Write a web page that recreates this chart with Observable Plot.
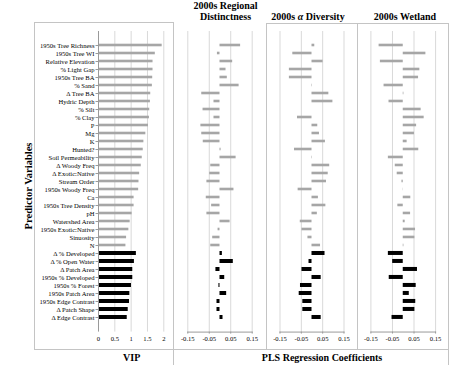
<!DOCTYPE html>
<html>
<head>
<meta charset="utf-8">
<script src="https://cdn.jsdelivr.net/npm/d3@7"></script>
<script src="https://cdn.jsdelivr.net/npm/@observablehq/plot@0.6"></script>
<style>
  html, body { margin: 0; padding: 0; background: #fff; }
  #chart { position: relative; width: 474px; height: 365px; overflow: hidden; font-family: "Liberation Serif", "Times New Roman", serif; }
  .ln { position: absolute; background: #c4c4c4; }
  .t { position: absolute; font-weight: bold; color: #000; white-space: nowrap; transform: translate(-50%, -50%); line-height: 1; }
</style>
</head>
<body>
<div id="chart"></div>
<script>
// ---- data ----
const siteVars = ["1950s Tree Richness", "1950s Tree WI", "Relative Elevation", "% Light Gap", "1950s Tree BA", "% Sand",
  "Δ Tree BA", "Hydric Depth", "% Silt", "% Clay", "P", "Mg", "K", "Hunted?", "Soil Permeability", "Δ Woody Freq",
  "Δ Exotic:Native", "Stream Order", "1950s Woody Freq", "Ca", "1950s Tree Density", "pH", "Watershed Area",
  "1950s Exotic:Native", "Sinuosity", "N"];
const landscapeVars = ["Δ % Developed", "Δ % Open Water", "Δ Patch Area", "1950s % Developed", "1950s % Forest",
  "1950s Patch Area", "1950s Edge Contrast", "Δ Patch Shape", "Δ Edge Contrast"];
const vip = [1.95, 1.74, 1.67, 1.67, 1.66, 1.65, 1.60, 1.59, 1.57, 1.56, 1.53, 1.45, 1.39, 1.37, 1.34, 1.31, 1.26, 1.24, 1.23,
  1.09, 1.09, 1.03, 0.97, 0.93, 0.86, 0.84,
  1.16, 1.10, 1.05, 1.05, 1.01, 0.96, 0.95, 0.91, 0.88];
const regional = [0.096, -0.012, 0.059, 0.028, 0.034, 0.089, -0.085, -0.028, -0.079, -0.028, -0.089, -0.085, -0.078, 0.005,
  0.075, -0.043, -0.048, -0.061, 0.065, -0.064, -0.039, -0.061, 0.047, -0.009, -0.034, -0.043,
  0.011, 0.062, -0.019, 0.022, -0.005, 0.031, -0.014, -0.014, 0.014];
const alphaDiversity = [0.013, -0.090, 0.052, -0.106, -0.106, 0.002, 0.079, 0.098, 0, -0.068, 0.027, 0.035, 0.063, -0.082,
  -0.002, 0.083, 0.076, 0.068, -0.065, 0.030, 0.065, 0.025, -0.055, -0.047, -0.019, 0.040,
  0.061, -0.014, -0.047, 0.043, -0.054, -0.060, -0.043, -0.043, 0.043];
const wetland = [-0.112, 0.105, -0.106, 0.077, 0.071, -0.089, 0.003, -0.066, 0.083, 0.097, 0.062, 0.052, 0.018, 0.072,
  -0.069, -0.037, -0.028, -0.006, -0.001, 0.035, -0.025, 0.034, 0.009, 0.057, 0.054, 0.003,
  -0.069, -0.049, 0.066, -0.065, 0.060, 0.028, 0.058, 0.054, -0.052];
const vipTicks = [0, 0.5, 1, 1.5, 2];
const coefTicks = [-0.15, -0.05, 0.05, 0.15];

// ---- build ----
const variables = siteVars.concat(landscapeVars);
const rows = variables.map((v, i) => ({
  v, group: i < siteVars.length ? "site" : "landscape",
  vip: vip[i], regional: regional[i], alpha: alphaDiversity[i], wetland: wetland[i]
}));
const siteRows = rows.filter(d => d.group === "site");
const landRows = rows.filter(d => d.group === "landscape");

const H = 365, MT = 31, MB = 33.4;
const font = {fontFamily: "Liberation Serif, Times New Roman, serif", fontSize: "6.6px", color: "#000", background: "transparent", overflow: "visible"};
const GRAY = "#a6a6a6", GRID = "#d9d9d9";

const chart = document.getElementById("chart");
function place(svg, left) {
  svg.style.position = "absolute";
  svg.style.left = left + "px";
  svg.style.top = "0px";
  chart.appendChild(svg);
}

// VIP panel
place(Plot.plot({
  width: 172, height: H, marginLeft: 98, marginRight: 8.7, marginTop: MT, marginBottom: MB,
  style: font,
  x: {domain: [0, 2]},
  y: {domain: variables, padding: 0},
  marks: [
    Plot.gridX([0.5, 1, 1.5, 2], {stroke: GRID, strokeOpacity: 1}),
    Plot.barX(siteRows, {y: "v", x1: 0, x2: "vip", fill: GRAY, insetTop: 2.7, insetBottom: 2.7}),
    Plot.barX(landRows, {y: "v", x1: 0, x2: "vip", fill: "#000", insetTop: 2, insetBottom: 2}),
    Plot.ruleX([0], {stroke: "#9a9a9a"}),
    Plot.axisY({tickSize: 2.5, tickPadding: 1.5, stroke: "#9a9a9a", label: null}),
    Plot.axisX({ticks: vipTicks, tickSize: 0, tickPadding: 4.5, tickFormat: d => String(d), label: null})
  ]
}), 0);

function coefPanel(key, left, width, ml, mr) {
  return place(Plot.plot({
    width, height: H, marginLeft: ml, marginRight: mr, marginTop: MT, marginBottom: MB,
    style: font,
    x: {domain: [-0.15, 0.15]},
    y: {domain: variables, padding: 0, axis: null},
    marks: [
      Plot.gridX(coefTicks, {stroke: GRID, strokeOpacity: 1}),
      Plot.barX(siteRows, {y: "v", x1: 0, x2: key, fill: GRAY, insetTop: 2.7, insetBottom: 2.7}),
      Plot.barX(landRows, {y: "v", x1: 0, x2: key, fill: "#000", insetTop: 2, insetBottom: 2}),
      Plot.frame({anchor: "bottom", stroke: "#9a9a9a"}),
      Plot.axisX({ticks: coefTicks, tickSize: 2, stroke: "#9a9a9a", tickPadding: 2.5, tickFormat: d => String(d), label: null})
    ]
  }), left);
}
coefPanel("regional", 173, 93, 14.3, 14.3);
coefPanel("alpha", 266, 91.3, 13.5, 13.8);
coefPanel("wetland", 357.3, 90.7, 13.4, 12.6);

// frames and titles
function line(x, y, w, h) {
  const d = document.createElement("div");
  d.className = "ln";
  Object.assign(d.style, {left: x + "px", top: y + "px", width: w + "px", height: h + "px"});
  chart.appendChild(d);
}
line(34, 22, 1, 327.5);        // left box left
line(34, 22, 139, 1);          // left box top
line(172.5, 22, 1, 343);       // divider VIP / PLS
line(265.5, 22.5, 1, 327);     // panel divider
line(357, 22.5, 1, 327);       // panel divider
line(265.5, 22.5, 183, 1);     // top of panels 2-3
line(448, 22.5, 1, 343);       // right edge
line(34, 349, 415, 1);         // bottom line

function text(str, x, y, size, rot) {
  const d = document.createElement("div");
  d.className = "t";
  d.innerHTML = str;
  d.style.left = x + "px";
  d.style.top = y + "px";
  d.style.fontSize = size + "px";
  if (rot) d.style.transform = "translate(-50%, -50%) rotate(-90deg)";
  chart.appendChild(d);
}
text("2000s Regional", 225.5, 6, 10);
text("Distinctness", 225.5, 17, 10);
text("2000s <i>α</i> Diversity", 308, 17, 10);
text("2000s Wetland", 405, 17, 10);
text("Predictor Variables", 29, 186, 10.5, true);
text("VIP", 131.7, 357.5, 10);
text("PLS Regression Coefficients", 322, 357.5, 10);
</script>
</body>
</html>
